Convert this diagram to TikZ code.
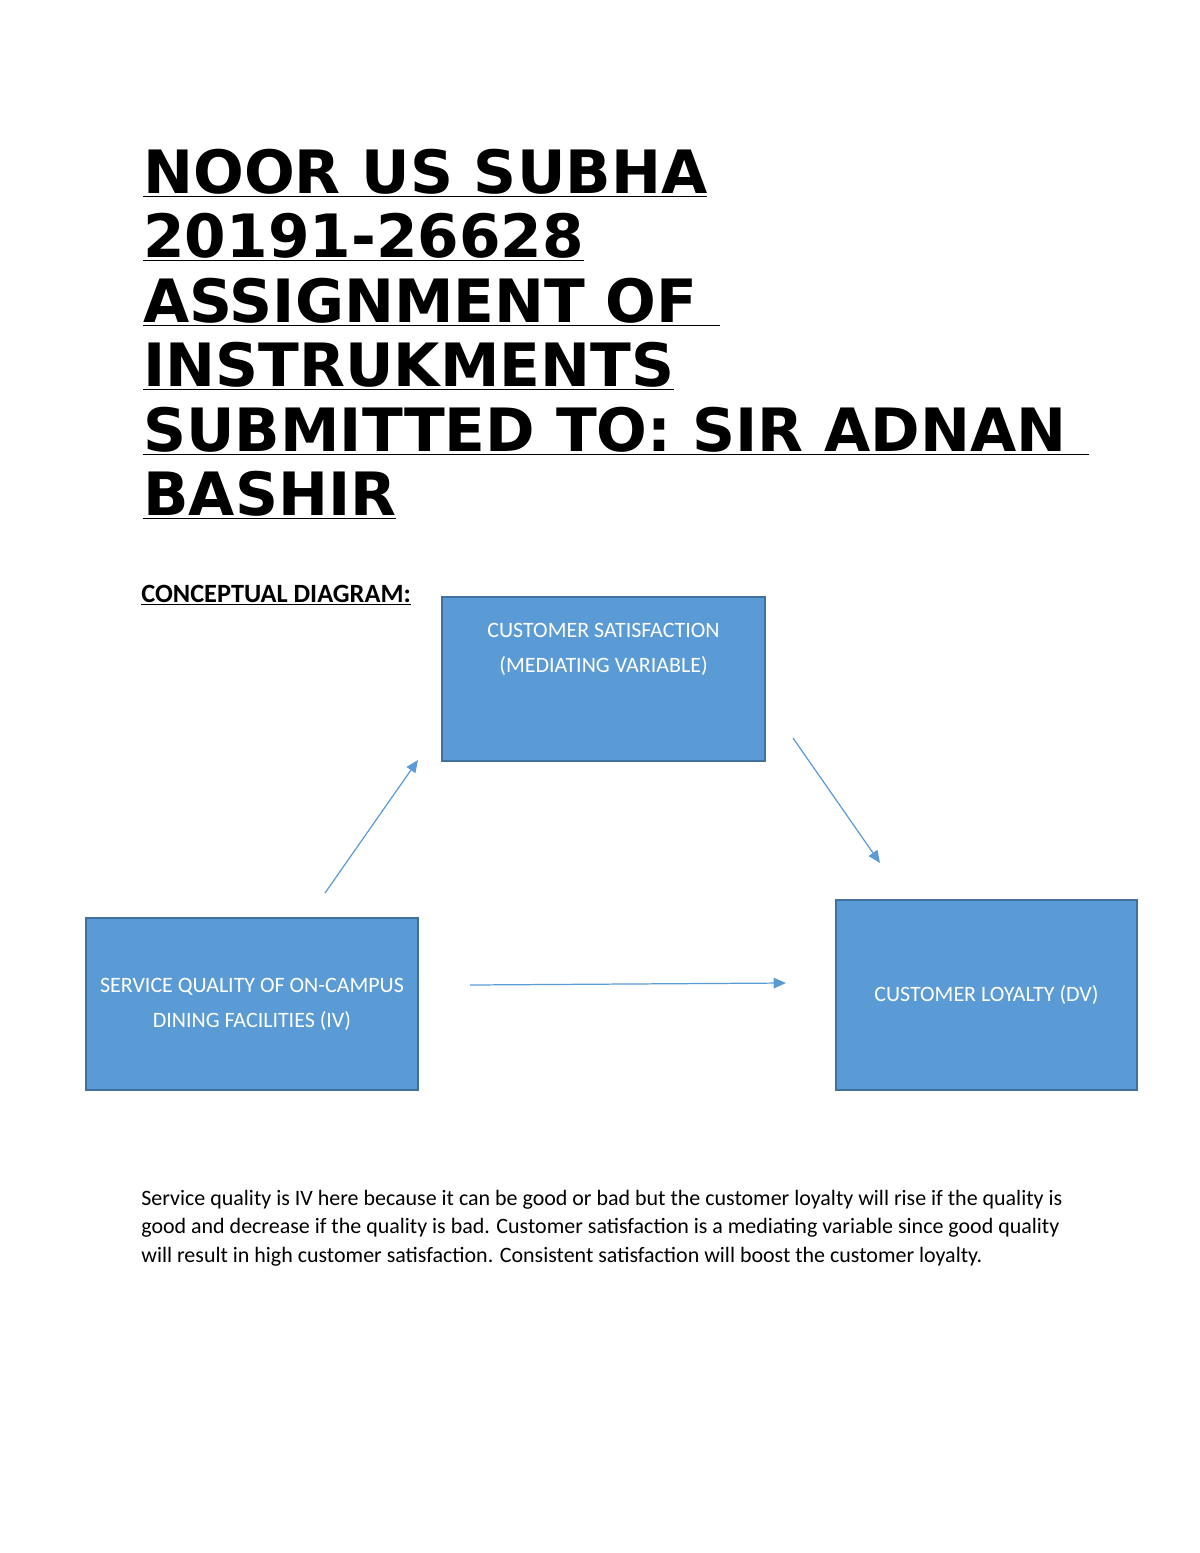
\documentclass[tikz,border=0pt]{standalone}
\usepackage{fontspec}
\setmainfont{Carlito}
\newfontfamily\titlefont{DejaVu Sans}
\usetikzlibrary{arrows.meta}
\definecolor{boxfill}{HTML}{5B9BD5}
\definecolor{boxline}{HTML}{41719C}
\begin{document}
\begin{tikzpicture}[x=0.02cm,y=-0.02cm,
 ttl/.style={anchor=base west,inner sep=0,font=\titlefont\bfseries\fontsize{34}{36}\selectfont},
 bx/.style={draw=boxline,line width=1.3pt,fill=boxfill,text=white,align=center,font=\fontsize{12.5}{20}\selectfont,inner sep=0},
 arr/.style={draw=boxfill,line width=0.7pt,-{Triangle[length=7pt,width=6pt]}},
 body/.style={anchor=base west,inner sep=0,font=\fontsize{12.5}{15}\selectfont}]
\useasboundingbox (0,0) rectangle (1200,1553);
\node[ttl] (t1) at (143,193) {\underline{NOOR US SUBHA}};
\node[ttl] (t2) at (143,257) {\underline{20191-26628}};
\node[ttl] (t3) at (143,322) {\underline{ASSIGNMENT OF\phantom{I}}};
\node[ttl] (t4) at (143,386) {\underline{INSTRUKMENTS}};
\node[ttl] (t5) at (143,451) {\underline{SUBMITTED TO: SIR ADNAN\phantom{I}}};
\node[ttl] (t6) at (143,515) {\underline{BASHIR}};
\node[anchor=base west,inner sep=0,font=\bfseries\fontsize{15}{18}\selectfont] (cd) at (141,602) {\underline{CONCEPTUAL DIAGRAM:}};
\node[bx,minimum width=323*0.02cm,minimum height=164*0.02cm] (cs) at (603.5,679) {CUSTOMER SATISFACTION\\(MEDIATING VARIABLE)\\[1.2em]};
\node[bx,minimum width=332*0.02cm,minimum height=172*0.02cm] (iv) at (252,1004) {SERVICE QUALITY OF ON-CAMPUS\\DINING FACILITIES (IV)};
\node[bx,minimum width=301*0.02cm,minimum height=190*0.02cm] (dv) at (986.5,995) {CUSTOMER LOYALTY (DV)};
\coordinate (a1) at (325,893); \coordinate (a2) at (418,760);
\coordinate (b1) at (793,738); \coordinate (b2) at (880,863);
\coordinate (c1) at (470,985); \coordinate (c2) at (786,983);
\draw[arr] (a1) -- (a2);
\draw[arr] (b1) -- (b2);
\draw[arr] (c1) -- (c2);
\node[body] (p1) at (141,1205) {Service quality is IV here because it can be good or bad but the customer loyalty will rise if the quality is};
\node[body] (p2) at (141,1233) {good and decrease if the quality is bad. Customer satisfaction is a mediating variable since good quality};
\node[body] (p3) at (141,1262) {will result in high customer satisfaction. Consistent satisfaction will boost the customer loyalty.};
\end{tikzpicture}
\end{document}
